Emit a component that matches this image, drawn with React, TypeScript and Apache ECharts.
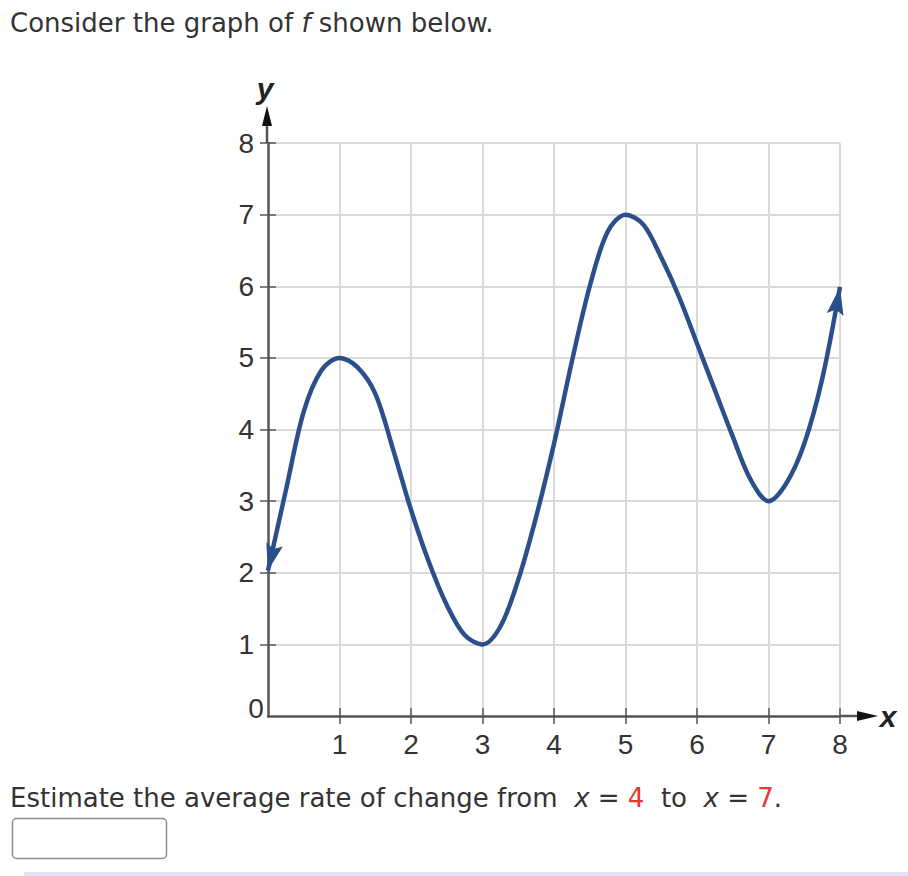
import React, { useEffect, useRef } from "react";
import * as echarts from "echarts";

const xValues = [0, 0.25, 0.5, 0.75, 1, 1.25, 1.5, 1.75, 2, 2.25, 2.5, 2.75, 3, 3.25, 3.5, 3.75, 4, 4.25, 4.5, 4.75, 5, 5.25, 5.5, 5.75, 6, 6.25, 6.5, 6.75, 7, 7.25, 7.5, 7.75, 8];
const yValues = [2.03, 3.15, 4.25, 4.83, 5, 4.87, 4.5, 3.72, 2.88, 2.15, 1.55, 1.13, 1, 1.25, 1.9, 2.78, 3.8, 4.95, 6.0, 6.76, 7, 6.86, 6.4, 5.85, 5.2, 4.55, 3.9, 3.3, 3, 3.25, 3.8, 4.7, 5.99];
const xTickLabels = ["1", "2", "3", "4", "5", "6", "7", "8"];
const yTickLabels = ["1", "2", "3", "4", "5", "6", "7", "8"];
const tickValues = [1, 2, 3, 4, 5, 6, 7, 8];

const CURVE = "#2b4f8a";
const AXIS = "#555555";
const GRIDC = "#dadada";
const TXT = "#333333";
const START_ARROW_DEG = 194; // direction of travel at start, degrees clockwise from "up"
const END_ARROW_DEG = 10;

function arrowPolygon(tip: number[], deg: number, len: number, wid: number) {
  const r = (deg * Math.PI) / 180;
  const d = [Math.sin(r), -Math.cos(r)];
  const p = [-d[1], d[0]];
  const bx = tip[0] - len * d[0];
  const by = tip[1] - len * d[1];
  return [
    [tip[0], tip[1]],
    [bx + (wid / 2) * p[0], by + (wid / 2) * p[1]],
    [tip[0] - 0.82 * len * d[0], tip[1] - 0.82 * len * d[1]],
    [bx - (wid / 2) * p[0], by - (wid / 2) * p[1]],
  ];
}

export default function App() {
  const ref = useRef<HTMLDivElement>(null);
  useEffect(() => {
    if (!ref.current) return;
    const chart = echarts.init(ref.current, undefined, { renderer: "svg" });
    const data = xValues.map((x, i) => [x, yValues[i]]);

    const labelFont = { fontFamily: "Liberation Sans, Arial, sans-serif", fontSize: 28, color: TXT };
    const textFont = "26px DejaVu Sans, Verdana, sans-serif";
    const italicFont = "italic 26px DejaVu Sans, Verdana, sans-serif";
    const graphics: any[] = [
      {
        type: "text", x: 10, y: 23,
        style: {
          text: "Consider the graph of {i|f} shown below.",
          font: textFont, fill: TXT, verticalAlign: "middle",
          rich: { i: { font: italicFont, fill: TXT } },
        },
      },
      {
        type: "text", x: 265, y: 88,
        style: { text: "y", font: "italic bold 30px Liberation Sans, Arial, sans-serif", fill: "#222", align: "center", verticalAlign: "middle" },
      },
      { type: "line", shape: { x1: 267, y1: 143, x2: 267, y2: 120 }, style: { stroke: AXIS, lineWidth: 2.5 } },
      { type: "polygon", shape: { points: [[267, 106], [262, 126], [272, 126]] }, style: { fill: "#111" } },
      { type: "line", shape: { x1: 840, y1: 716, x2: 860, y2: 716 }, style: { stroke: AXIS, lineWidth: 2.5 } },
      { type: "polygon", shape: { points: [[878, 716], [857, 711], [857, 721]] }, style: { fill: "#111" } },
      {
        type: "text", x: 888, y: 716,
        style: { text: "x", font: "italic bold 30px Liberation Sans, Arial, sans-serif", fill: "#222", align: "center", verticalAlign: "middle" },
      },
      {
        type: "text", x: 256, y: 708,
        style: { text: "0", font: "28px Liberation Sans, Arial, sans-serif", fill: TXT, align: "center", verticalAlign: "middle" },
      },
      {
        type: "text", x: 10, y: 798,
        style: {
          text: "Estimate the average rate of change from  {i|x} = {r|4}  to  {i|x} = {r|7}.",
          font: textFont, fill: TXT, verticalAlign: "middle",
          rich: {
            i: { font: italicFont, fill: TXT },
            r: { font: textFont, fill: "#e8372c" },
          },
        },
      },
      {
        type: "rect", shape: { x: 12.5, y: 818.5, width: 154, height: 40, r: 4 },
        style: { fill: "#fff", stroke: "#8c8c8c", lineWidth: 1.5 },
      },
      { type: "rect", shape: { x: 24, y: 872, width: 884, height: 4 }, style: { fill: "#dde4f6" } },
    ];

    const option: any = {
      animation: false,
      grid: { left: 268, top: 143, width: 572, height: 573, containLabel: false },
      xAxis: [
        {
          type: "value", min: 0, max: 8, interval: 1,
          axisLine: { show: true, lineStyle: { color: AXIS, width: 2.5 } },
          axisTick: { show: true, length: 8, customValues: tickValues, lineStyle: { color: AXIS, width: 1.5 } },
          axisLabel: {
            ...labelFont, margin: 14,
            customValues: tickValues,
            formatter: (v: number) => xTickLabels[tickValues.indexOf(v)] ?? "",
          },
          splitLine: { show: true, lineStyle: { color: GRIDC, width: 2 } },
        },
        {
          type: "value", min: 0, max: 8, interval: 1, position: "bottom",
          axisLine: { show: false },
          axisTick: { show: true, inside: true, length: 8, customValues: tickValues, lineStyle: { color: AXIS, width: 1.5 } },
          axisLabel: { show: false },
          splitLine: { show: false },
        },
      ],
      yAxis: [
        {
          type: "value", min: 0, max: 8, interval: 1,
          axisLine: { show: true, lineStyle: { color: AXIS, width: 2.5 } },
          axisTick: { show: true, length: 8, customValues: tickValues, lineStyle: { color: AXIS, width: 1.5 } },
          axisLabel: {
            ...labelFont, margin: 14,
            customValues: tickValues,
            formatter: (v: number) => yTickLabels[tickValues.indexOf(v)] ?? "",
          },
          splitLine: { show: true, lineStyle: { color: GRIDC, width: 2 } },
        },
        {
          type: "value", min: 0, max: 8, interval: 1, position: "left",
          axisLine: { show: false },
          axisTick: { show: true, inside: true, length: 8, customValues: tickValues, lineStyle: { color: AXIS, width: 1.5 } },
          axisLabel: { show: false },
          splitLine: { show: false },
        },
      ],
      series: [
        {
          type: "line",
          xAxisIndex: 0,
          yAxisIndex: 0,
          data,
          smooth: 0.33,
          showSymbol: false,
          symbol: "none",
          lineStyle: { color: CURVE, width: 4.5, join: "round" },
          itemStyle: { color: CURVE },
          z: 5,
        },
      ],
      graphic: graphics,
    };
    chart.setOption(option);

    const n = xValues.length;
    const startTip = chart.convertToPixel({ xAxisIndex: 0, yAxisIndex: 0 }, [xValues[0], yValues[0]]) as number[];
    const endTip = chart.convertToPixel({ xAxisIndex: 0, yAxisIndex: 0 }, [xValues[n - 1], yValues[n - 1]]) as number[];
    const arrows = [
      { type: "polygon", z: 10, shape: { points: arrowPolygon(startTip, START_ARROW_DEG, 27, 17) }, style: { fill: CURVE } },
      { type: "polygon", z: 10, shape: { points: arrowPolygon(endTip, END_ARROW_DEG, 28, 17) }, style: { fill: CURVE } },
    ];
    chart.setOption({ graphic: [...graphics, ...arrows] });
    return () => chart.dispose();
  }, []);
  return (
    <div
      ref={ref}
      style={{ position: "absolute", left: 0, top: 0, width: 908, height: 876, background: "#fff" }}
    />
  );
}
